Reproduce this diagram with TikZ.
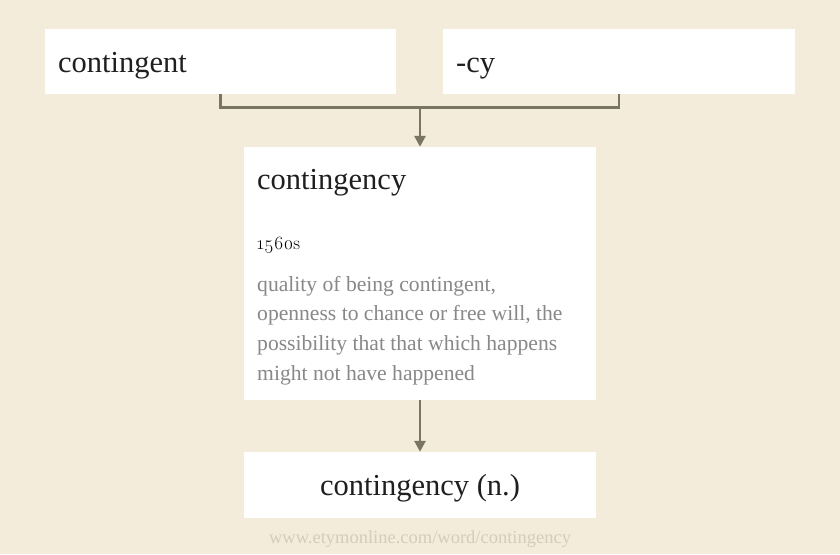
\documentclass[tikz,border=0pt]{standalone}
\usepackage{fontspec}
\setmainfont{Liberation Serif}
\newfontfamily\datefont[Numbers=OldStyle]{Latin Modern Roman}
\usetikzlibrary{arrows.meta}
\definecolor{etybg}{RGB}{243,236,218}
\definecolor{etyline}{RGB}{122,116,99}
\definecolor{etygray}{RGB}{136,136,136}
\definecolor{etyfoot}{RGB}{212,204,188}
\tikzset{
  wordbox/.style={fill=white, inner sep=0pt, minimum width=352pt},
  link/.style={draw=etyline, line width=2.8pt},
  arrowlink/.style={link, -{Triangle[length=11pt,width=11pt]}},
  word/.style={anchor=base west, inner sep=0pt, text=black!88, font=\fontsize{30.5}{36}\selectfont},
  gloss/.style={anchor=base west, inner sep=0pt, text=etygray, font=\fontsize{21.6}{26}\selectfont},
}
\begin{document}
\begin{tikzpicture}[x=1pt,y=-1pt]

\fill[etybg] (0,0) rectangle (840,554);
\useasboundingbox (0,0) rectangle (840,554);

\node[wordbox, minimum width=351pt, minimum height=65pt] (root) at (220.5,61.5) {};
\node[word] (rootword) at (58,72) {contingent};

\node[wordbox, minimum height=65pt] (suffix) at (619,61.5) {};
\node[word] (suffixword) at (456,72) {-cy};

\draw[link] (root.south) -- ++(0,13) -| (suffix.south);
\coordinate (join) at (420,107);

\node[wordbox, minimum height=253pt] (entry) at (420,273.5) {};
\node[word] (entryword) at (257,189) {contingency};
\node[anchor=base west, inner sep=0pt, text=black, font=\datefont\fontsize{18.8}{22}\selectfont] (date) at (257,249) {1560s};
\foreach \ln [count=\i] in {{quality of being contingent,},{openness to chance or free will, the},{possibility that that which happens},{might not have happened}}
  \node[gloss] (gloss\i) at (257,261.3+29.7*\i) {\ln};

\draw[arrowlink] (join) -- (entry.north);

\node[wordbox, minimum height=66pt] (noun) at (420,485) {};
\node[word, anchor=base] (nounword) at (420,495) {contingency (n.)};

\draw[arrowlink] (entry.south) -- (noun.north);

\node[anchor=base, inner sep=0pt, text=etyfoot, font=\fontsize{18.5}{22}\selectfont] (url) at (420,543) {www.etymonline.com/word/contingency};

\end{tikzpicture}
\end{document}
